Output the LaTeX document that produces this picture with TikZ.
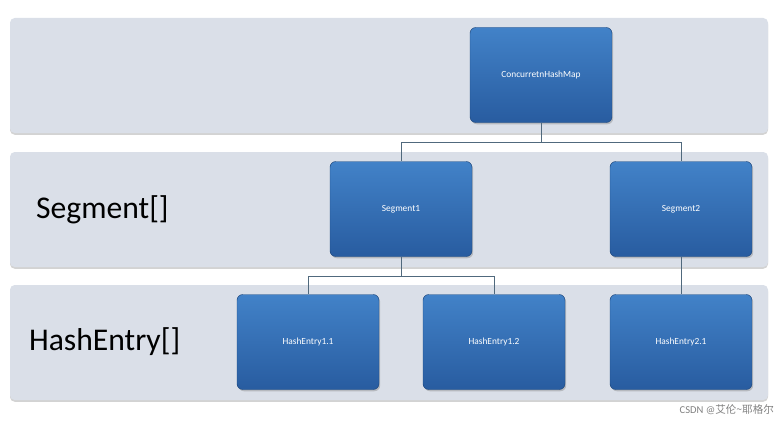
\documentclass[tikz,border=0pt]{standalone}
\usepackage{fontspec}
\setmainfont{Carlito}
\newfontfamily\cjk{Noto Sans CJK SC}
\usetikzlibrary{shadows}
\definecolor{bandfill}{RGB}{218,223,232}
\definecolor{boxtop}{RGB}{66,130,200}
\definecolor{boxbot}{RGB}{40,92,160}
\definecolor{linec}{RGB}{80,105,125}
\begin{document}
\begin{tikzpicture}[x=0.03cm,y=-0.03cm,
    band/.style={
      fill=bandfill,
      rounded corners=4pt,
      drop shadow={shadow xshift=0pt,shadow yshift=-1.5pt,opacity=.35}},
    kasten/.style={
      rectangle,
      rounded corners=5pt,
      top color=boxtop,
      bottom color=boxbot,
      draw=boxbot!80!black,
      text=white,
      font=\fontsize{8}{9}\selectfont,
      minimum width=142*0.03cm,
      minimum height=95*0.03cm,
      drop shadow={shadow xshift=1pt,shadow yshift=-1.5pt,opacity=.4}},
    ebene/.style={anchor=west,font=\fontsize{27}{30}\selectfont}
    ]

  \useasboundingbox (0,0) rectangle (783,423);

  \fill[band] (10,18) rectangle (768,133);
  \fill[band] (10,152) rectangle (768,267);
  \fill[band] (10,285) rectangle (768,400);

  \node[ebene] (lsegment) at (32,210) {Segment[]};
  \node[ebene] (lentry) at (25,342) {HashEntry[]};

  \node at (541,75) (map) [kasten] {ConcurretnHashMap};
  \node at (401,209) (seg1) [kasten] {Segment1};
  \node at (681,209) (seg2) [kasten] {Segment2};
  \node at (308,342) (entry11) [kasten] {HashEntry1.1};
  \node at (494,342) (entry12) [kasten] {HashEntry1.2};
  \node at (681,342) (entry21) [kasten] {HashEntry2.1};

  \draw[linec, line width=.8pt]
        (map.south) |- ++(0,20) -| (seg1.north)
        (map.south) |- ++(0,20) -| (seg2.north)
        (seg1.south) |- ++(0,20) -| (entry11.north)
        (seg1.south) |- ++(0,20) -| (entry12.north)
        (seg2.south) -- (entry21.north);

  \node[anchor=east, text=gray, font=\fontsize{9}{10}\selectfont] (mark) at (778,410) {CSDN @{\cjk 艾伦\textasciitilde 耶格尔}};

\end{tikzpicture}
\end{document}
